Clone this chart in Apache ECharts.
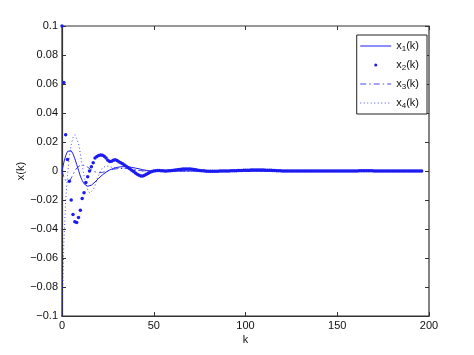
<!DOCTYPE html>
<html>
<head>
<meta charset="utf-8">
<script src="https://cdn.jsdelivr.net/npm/echarts@6/dist/echarts.min.js"></script>
<style>
  html, body { margin: 0; padding: 0; background: #fff; }
  #main { width: 474px; height: 355px; }
</style>
</head>
<body>
<div id="main"></div>
<script>
// axis setup
var kRange = [0, 200];
var kStep = 50;
var yRange = [-0.1, 0.1];
var yStep = 0.02;
var seriesNames = ['x1(k)', 'x2(k)', 'x3(k)', 'x4(k)'];

// x1(k) solid line, k = 0..196
var x1 = [
  0, 0.006, 0.0105, 0.0135, 0.0145, 0.014, 0.0118, 0.0085, 0.0045, 0.0005,
  -0.0035, -0.0065, -0.0088, -0.01, -0.0105, -0.0104, -0.0098, -0.0088, -0.0076, -0.0063,
  -0.005, -0.0038, -0.0027, -0.0017, -0.0008, 0, 0.0007, 0.0013, 0.0018, 0.0022,
  0.0025, 0.0027, 0.0029, 0.003, 0.003, 0.003, 0.0029, 0.0027, 0.0025, 0.0023,
  0.002, 0.0018, 0.0015, 0.0012, 0.0009, 0.0006, 0.0004, 0.0002, 0, -0.0001,
  -0.0002, -0.0003, -0.0003, -0.0003, -0.0003, -0.0002, -0.0002, -0.0001, -0.0001, 0,
  0, 0, 0, 0, 0, 0, 0, 0, 0, 0,
  0, 0, 0, 0, 0, 0, 0, 0, 0, 0,
  0, 0, 0, 0, 0, 0, 0, 0, 0, 0,
  0, 0, 0, 0, 0, 0, 0, 0, 0, 0,
  0, 0, 0, 0, 0, 0, 0, 0, 0, 0,
  0, 0, 0, 0, 0, 0, 0, 0, 0, 0,
  0, 0, 0, 0, 0, 0, 0, 0, 0, 0,
  0, 0, 0, 0, 0, 0, 0, 0, 0, 0,
  0, 0, 0, 0, 0, 0, 0, 0, 0, 0,
  0, 0, 0, 0, 0, 0, 0, 0, 0, 0,
  0, 0, 0, 0, 0, 0, 0, 0, 0, 0,
  0, 0, 0, 0, 0, 0, 0, 0, 0, 0,
  0, 0, 0, 0, 0, 0, 0, 0, 0, 0,
  0, 0, 0, 0, 0, 0, 0
];

// x2(k) dots, k = 0..196
var x2 = [
  0.1, 0.061, 0.025, 0.008, -0.007, -0.02, -0.03, -0.035, -0.0355, -0.032,
  -0.027, -0.019, -0.015, -0.008, -0.004, 0, 0.003, 0.0057, 0.009, 0.01,
  0.0107, 0.011, 0.0108, 0.0102, 0.009, 0.0075, 0.0066, 0.0068, 0.0075, 0.0077,
  0.0072, 0.0064, 0.0057, 0.005, 0.0042, 0.0033, 0.0024, 0.0015, 0.0006, -0.0004,
  -0.0013, -0.0022, -0.003, -0.0035, -0.0034, -0.003, -0.0023, -0.0015, -0.0008, -0.0003,
  0, 0.0002, 0.0003, 0.0003, 0.0002, 0.0001, 0, 0, 0.0001, 0.0002,
  0.0003, 0.0005, 0.0007, 0.0009, 0.0011, 0.0012, 0.0013, 0.0014, 0.0014, 0.0014,
  0.0013, 0.0012, 0.001, 0.0008, 0.0006, 0.0004, 0.0002, 0.0001, 0, -0.0001,
  -0.0002, -0.0002, -0.0002, -0.0002, -0.0001, -0.0001, 0, 0, 0, 0,
  0, 0, 0.0001, 0.0001, 0.0002, 0.0002, 0.0003, 0.0003, 0.0004, 0.0005,
  0.0005, 0.0006, 0.0006, 0.0007, 0.0007, 0.0007, 0.0007, 0.0007, 0.0007, 0.0007,
  0.0007, 0.0006, 0.0006, 0.0005, 0.0005, 0.0004, 0.0003, 0.0002, 0.0002, 0.0001,
  0, 0, 0, 0, 0, 0, 0, 0, 0, 0,
  0, 0, 0, 0, 0, 0, 0, 0, 0, 0,
  0, 0, 0, 0, 0, 0, 0, 0, 0, 0,
  0, 0, 0, 0, 0, 0, 0, 0, 0, 0,
  0, 0, 0.0001, 0.0001, 0.0002, 0.0002, 0.0002, 0.0002, 0.0001, 0.0001,
  0, 0, 0, 0, 0, 0, 0, 0, 0, 0,
  0, 0, 0, 0, 0, 0, 0, 0, 0, 0,
  0, 0, 0, 0, 0, 0, 0
];

// x3(k) dash-dot line, k = 0..196
var x3 = [
  0, -0.004, -0.0065, -0.0075, -0.007, -0.005, -0.0025, 0, 0.002, 0.0033,
  0.004, 0.0042, 0.004, 0.0034, 0.0026, 0.0017, 0.0008, 0, -0.0006, -0.001,
  -0.0012, -0.0012, -0.001, -0.0006, -0.0002, 0.0002, 0.0006, 0.0009, 0.0012, 0.0014,
  0.0016, 0.0017, 0.0018, 0.0018, 0.0018, 0.0017, 0.0016, 0.0014, 0.0012, 0.001,
  0.0008, 0.0006, 0.0004, 0.0002, 0.0001, 0, 0, 0, 0, 0,
  0, 0, 0, 0, 0, 0, 0, 0, 0, 0,
  0, 0, 0, 0, 0, 0, 0, 0, 0, 0,
  0, 0, 0, 0, 0, 0, 0, 0, 0, 0,
  0, 0, 0, 0, 0, 0, 0, 0, 0, 0,
  0, 0, 0, 0, 0, 0, 0, 0, 0, 0,
  0, 0, 0, 0, 0, 0, 0, 0, 0, 0,
  0, 0, 0, 0, 0, 0, 0, 0, 0, 0,
  0, 0, 0, 0, 0, 0, 0, 0, 0, 0,
  0, 0, 0, 0, 0, 0, 0, 0, 0, 0,
  0, 0, 0, 0, 0, 0, 0, 0, 0, 0,
  0, 0, 0, 0, 0, 0, 0, 0, 0, 0,
  0, 0, 0, 0, 0, 0, 0, 0, 0, 0,
  0, 0, 0, 0, 0, 0, 0, 0, 0, 0,
  0, 0, 0, 0, 0, 0, 0, 0, 0, 0,
  0, 0, 0, 0, 0, 0, 0
];

// x4(k) dotted line, k = 0..196
var x4 = [
  -0.1, -0.05, -0.02, -0.003, 0.01, 0.018, 0.023, 0.025, 0.024, 0.019,
  0.012, 0.004, -0.003, -0.009, -0.013, -0.015, -0.015, -0.013, -0.01, -0.006,
  -0.003, 0, 0.002, 0.003, 0.0035, 0.0035, 0.003, 0.0026, 0.0022, 0.002,
  0.0019, 0.0018, 0.0018, 0.0018, 0.0017, 0.0016, 0.0014, 0.0012, 0.001, 0.0008,
  0.0006, 0.0004, 0.0002, 0.0001, 0, 0, 0, 0, 0, 0,
  0, 0, 0, 0, 0, 0, 0, 0, 0, 0,
  0, 0, 0, 0, 0, 0, 0, 0, 0, 0,
  0, 0, 0, 0, 0, 0, 0, 0, 0, 0,
  0, 0, 0, 0, 0, 0, 0, 0, 0, 0,
  0, 0, 0, 0, 0, 0, 0, 0, 0, 0,
  0, 0, 0, 0, 0, 0, 0, 0, 0, 0,
  0, 0, 0, 0, 0, 0, 0, 0, 0, 0,
  0, 0, 0, 0, 0, 0, 0, 0, 0, 0,
  0, 0, 0, 0, 0, 0, 0, 0, 0, 0,
  0, 0, 0, 0, 0, 0, 0, 0, 0, 0,
  0, 0, 0, 0, 0, 0, 0, 0, 0, 0,
  0, 0, 0, 0, 0, 0, 0, 0, 0, 0,
  0, 0, 0, 0, 0, 0, 0, 0, 0, 0,
  0, 0, 0, 0, 0, 0, 0, 0, 0, 0,
  0, 0, 0, 0, 0, 0, 0
];

var blue = '#1c1cf0';
var axisColor = '#333';
var font = 'Liberation Sans, Arial, Helvetica, sans-serif';

var lineStyles = [
  { color: blue, width: 1, type: 'solid' },
  null,
  { color: blue, width: 0.8, type: [6, 3, 1.5, 3] },
  { color: blue, width: 0.8, type: [1, 2.5] }
];

function pairs(arr) {
  return arr.map(function (v, k) { return [k, v]; });
}

function yLabel(v) {
  if (Math.abs(v) < 1e-9) return '0';
  var s = String(+Math.abs(v).toFixed(2));
  return (v < 0 ? '\u2212' : '') + s;
}

var chartDom = document.getElementById('main');
var myChart = echarts.init(chartDom, null, { renderer: 'canvas' });

var tickStyle = { show: true, inside: true, length: 4, lineStyle: { color: axisColor, width: 1 } };

var legendData = seriesNames.map(function (name, i) {
  if (lineStyles[i]) {
    return { name: name, lineStyle: lineStyles[i], itemStyle: { opacity: 0 } };
  }
  return { name: name };
});

var option = {
  animation: false,
  backgroundColor: '#fff',
  grid: {
    left: 62, right: 45, top: 26, bottom: 39,
    show: true, borderColor: axisColor, borderWidth: 1.2
  },
  legend: {
    data: legendData,
    orient: 'vertical',
    right: 47,
    top: 35,
    padding: [4, 8, 4, 3],
    itemWidth: 31,
    itemHeight: 3,
    itemGap: 5,
    backgroundColor: '#fff',
    borderColor: '#222',
    borderWidth: 1,
    borderRadius: 0,
    selectedMode: false,
    formatter: function (name) {
      var n = name.charAt(1);
      return '{b|x}{s|' + n + '}{b|(k)}';
    },
    textStyle: {
      color: '#111', fontFamily: font, fontSize: 11,
      rich: {
        b: { fontFamily: font, fontSize: 11, color: '#111', lineHeight: 14 },
        s: { fontFamily: font, fontSize: 8, color: '#111', padding: [6, 0, 0, 0], lineHeight: 14 }
      }
    }
  },
  xAxis: [{
    type: 'value',
    min: kRange[0], max: kRange[1], interval: kStep,
    name: 'k',
    nameLocation: 'middle',
    nameGap: 18,
    nameMoveOverlap: false,
    nameTextStyle: { color: '#111', fontFamily: font, fontSize: 11 },
    axisLine: { show: true, onZero: false, lineStyle: { color: axisColor, width: 1.2 } },
    axisTick: tickStyle,
    axisLabel: { color: '#111', fontFamily: font, fontSize: 11, margin: 4 },
    splitLine: { show: false }
  }, {
    type: 'value',
    position: 'top',
    min: kRange[0], max: kRange[1], interval: kStep,
    axisLine: { show: false, onZero: false },
    axisTick: tickStyle,
    axisLabel: { show: false },
    splitLine: { show: false }
  }],
  yAxis: [{
    type: 'value',
    min: yRange[0], max: yRange[1], interval: yStep,
    name: 'x(k)',
    nameLocation: 'middle',
    nameGap: 36,
    nameMoveOverlap: false,
    nameRotate: 90,
    nameTextStyle: { color: '#111', fontFamily: font, fontSize: 11 },
    axisLine: { show: true, onZero: false, lineStyle: { color: axisColor, width: 1.2 } },
    axisTick: tickStyle,
    axisLabel: { color: '#111', fontFamily: font, fontSize: 11, margin: 4, formatter: yLabel },
    splitLine: { show: false }
  }, {
    type: 'value',
    position: 'right',
    min: yRange[0], max: yRange[1], interval: yStep,
    axisLine: { show: false, onZero: false },
    axisTick: tickStyle,
    axisLabel: { show: false },
    splitLine: { show: false }
  }],
  series: [{
    name: seriesNames[0],
    type: 'line',
    data: pairs(x1),
    symbol: 'none',
    lineStyle: lineStyles[0],
    itemStyle: { color: blue },
    z: 3
  }, {
    name: seriesNames[1],
    type: 'scatter',
    data: pairs(x2),
    symbol: 'circle',
    symbolSize: 3.5,
    itemStyle: { color: blue, opacity: 1 },
    z: 4
  }, {
    name: seriesNames[2],
    type: 'line',
    data: pairs(x3),
    symbol: 'none',
    lineStyle: lineStyles[2],
    itemStyle: { color: blue },
    z: 3
  }, {
    name: seriesNames[3],
    type: 'line',
    data: pairs(x4),
    symbol: 'none',
    lineStyle: lineStyles[3],
    itemStyle: { color: blue },
    z: 3
  }]
};

option && myChart.setOption(option);
</script>
</body>
</html>
